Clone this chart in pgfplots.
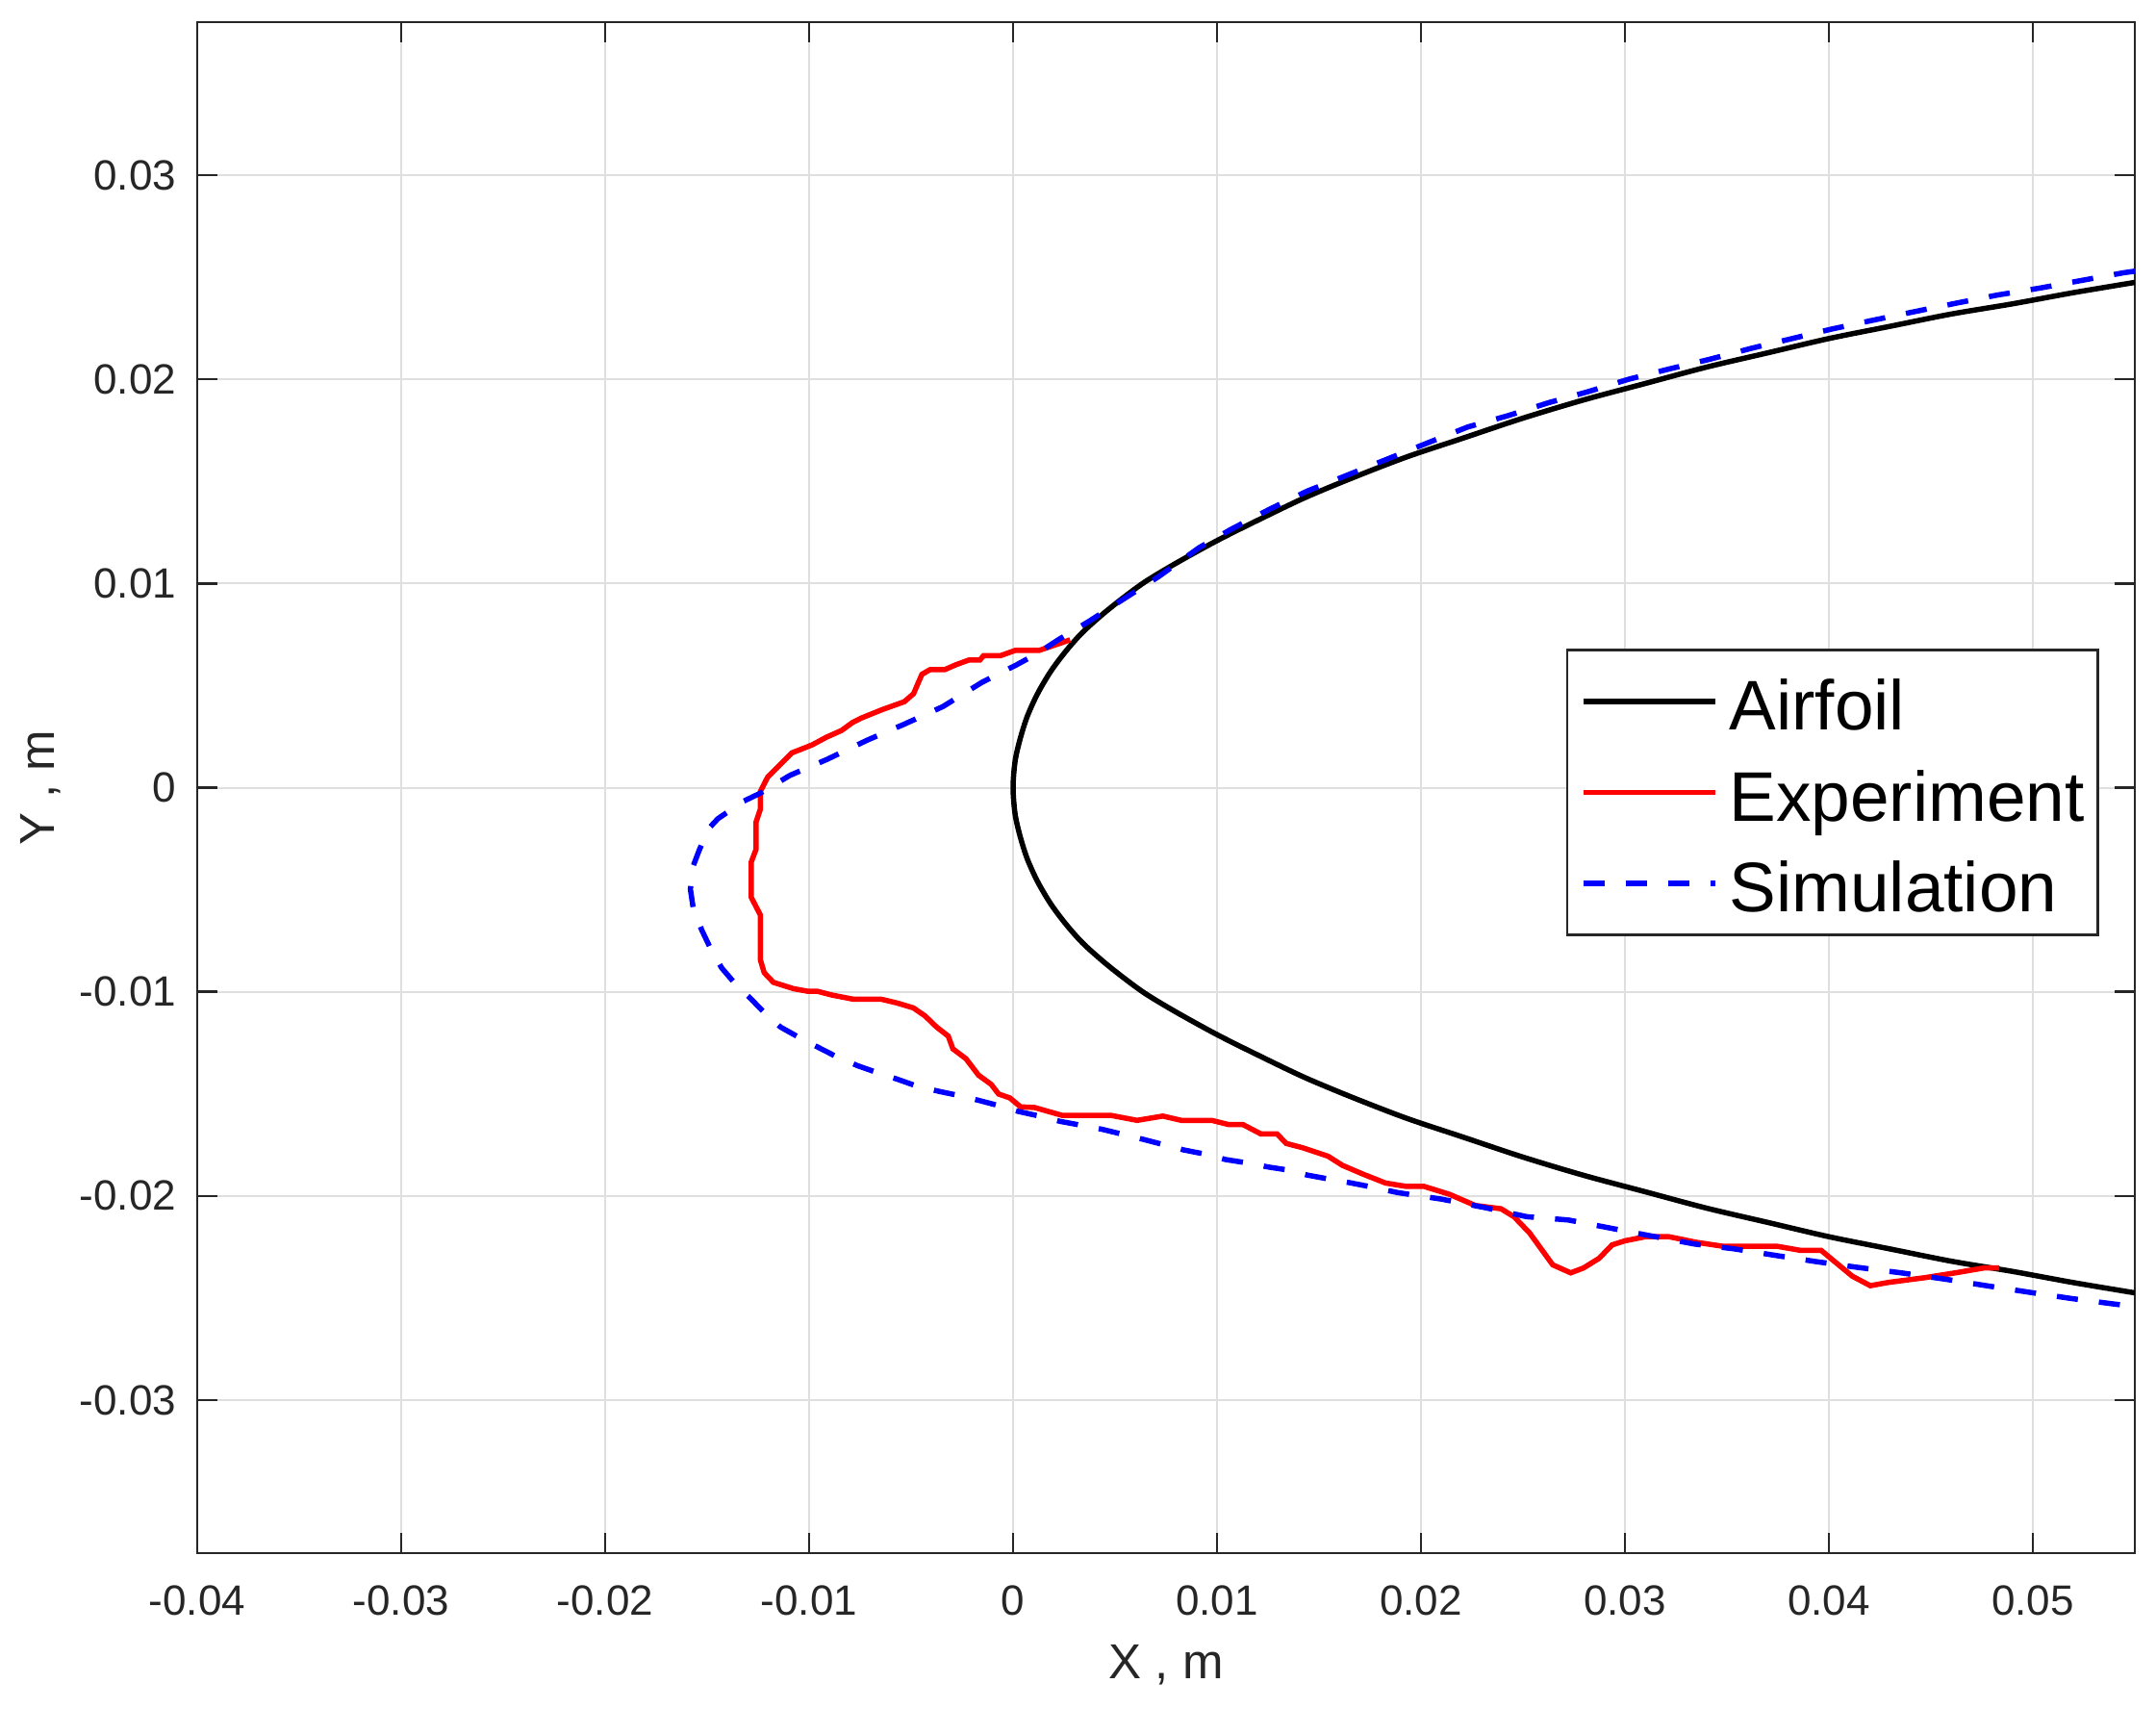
\documentclass[border=0pt]{standalone}
\usepackage{fontspec}
\setmainfont{Liberation Sans}
\usepackage{pgfplots}
\pgfplotsset{compat=1.18}
\definecolor{axgray}{RGB}{38,38,38}
\definecolor{gridgray}{RGB}{223,223,223}
\begin{document}
\begin{tikzpicture}
\begin{axis}[
  scale only axis,
  width=402.8pt, height=318.2pt,
  xmin=-0.04, xmax=0.055, ymin=-0.0375, ymax=0.0375,
  xtick={-0.04,-0.03,-0.02,-0.01,0,0.01,0.02,0.03,0.04,0.05},
  ytick={-0.03,-0.02,-0.01,0,0.01,0.02,0.03},
  scaled ticks=false,
  /pgf/number format/assume math mode=true,
  /pgf/number format/fixed,
  /pgf/number format/precision=2,
  tick label style={font=\fontsize{8.8}{10}\selectfont, text=axgray},
  xticklabel style={anchor=base, yshift=-12.8pt, inner sep=0pt},
  yticklabel style={anchor=east, xshift=-4.2pt, inner sep=0pt},
  xmajorgrids, ymajorgrids,
  grid style={color=gridgray, line width=0.4pt},
  axis line style={color=axgray, line width=0.5pt},
  tick style={color=axgray, line width=0.5pt},
  major tick length=4.2pt,
  tick align=inside,
  xlabel={X , m}, ylabel={Y , m},
  label style={font=\fontsize{10.2}{12}\selectfont, text=axgray},
  xlabel style={at={(axis description cs:0.5,-0.0823)}, anchor=base, inner sep=0pt},
  ylabel style={at={(axis description cs:-0.0735,0.5)}, anchor=base, rotate=0, inner sep=0pt},
  legend cell align=left,
  legend image code/.code={\draw[#1] (0pt,0pt) -- (27.4pt,0pt);},
  legend style={
    at={(axis description cs:0.9816,0.5908)}, anchor=north east,
    draw=axgray, line width=0.5pt,
    font=\fontsize{14.6}{17.5}\selectfont,
    inner xsep=2.8pt, inner ysep=3.6pt,
    row sep=4.65pt,
    nodes={inner sep=0pt, text height=13.05pt, text depth=1.2pt},
    /tikz/every odd column/.append style={column sep=2.4pt},
  },
]
\addplot[black, line width=1.1pt, smooth] coordinates {
(0.0550,0.02475) (0.0520,0.02425) (0.0490,0.0237) (0.0460,0.0232) (0.0430,0.0226)
(0.0400,0.0220) (0.0370,0.0213) (0.0340,0.0206) (0.0310,0.0198) (0.0280,0.0190)
(0.0250,0.0181) (0.0220,0.0171) (0.0193,0.0162) (0.0167,0.0152) (0.0143,0.0142)
(0.0120,0.0131) (0.0100,0.0121) (0.0080,0.0110) (0.0065,0.0101) (0.0054,0.0093)
(0.0044,0.0085) (0.0034,0.0076) (0.0026,0.0067) (0.00185,0.0057) (0.0012,0.0046)
(0.0007,0.0035) (0.00035,0.0024) (0.0001,0.0013) (0,0)
(0.0001,-0.0013) (0.00035,-0.0024) (0.0007,-0.0035) (0.0012,-0.0046) (0.00185,-0.0057)
(0.0026,-0.0067) (0.0034,-0.0076) (0.0044,-0.0085) (0.0054,-0.0093) (0.0065,-0.0101)
(0.0080,-0.0110) (0.0100,-0.0121) (0.0120,-0.0131) (0.0143,-0.0142) (0.0167,-0.0152)
(0.0193,-0.0162) (0.0220,-0.0171) (0.0250,-0.0181) (0.0280,-0.0190) (0.0310,-0.0198)
(0.0340,-0.0206) (0.0370,-0.0213) (0.0400,-0.0220) (0.0430,-0.0226) (0.0460,-0.0232)
(0.0490,-0.0237) (0.0520,-0.02425) (0.0550,-0.02475)
};
\addlegendentry{Airfoil}
\addplot[red, line width=1.1pt] coordinates {
(0.0028,0.00724) (0.00127,0.00672) (0.0001,0.00672) (-0.00063,0.00646) (-0.00145,0.00646)
(-0.00163,0.00625) (-0.00217,0.00625) (-0.0028,0.00602) (-0.00335,0.00578) (-0.00407,0.00578)
(-0.00447,0.00555) (-0.00488,0.0046) (-0.00533,0.00421) (-0.00642,0.00382) (-0.00741,0.00342)
(-0.00787,0.00319) (-0.00841,0.0028) (-0.00913,0.00248) (-0.00986,0.00209) (-0.01085,0.0017)
(-0.01148,0.00107) (-0.01203,0.00052) (-0.01239,-0.00019) (-0.01239,-0.00105) (-0.0126,-0.00168)
(-0.0126,-0.00302) (-0.01284,-0.00365) (-0.01284,-0.00537) (-0.01239,-0.00624) (-0.01239,-0.00844)
(-0.0122,-0.00907) (-0.01175,-0.00954) (-0.01076,-0.00985) (-0.01004,-0.00998) (-0.00958,-0.00998)
(-0.00889,-0.01016) (-0.00786,-0.01036) (-0.00649,-0.01036) (-0.00569,-0.01055) (-0.00489,-0.01079)
(-0.00432,-0.01118) (-0.00375,-0.01173) (-0.00318,-0.01217) (-0.00295,-0.0128) (-0.00231,-0.01328)
(-0.00169,-0.01409) (-0.00107,-0.01454) (-0.00071,-0.01501) (-0.00016,-0.0152) (0.00037,-0.01564)
(0.00105,-0.01567) (0.00242,-0.01606) (0.00482,-0.01606) (0.00608,-0.0163) (0.00734,-0.01609)
(0.00825,-0.0163) (0.00974,-0.0163) (0.01054,-0.0165) (0.01126,-0.0165) (0.01214,-0.01696)
(0.01294,-0.01696) (0.01339,-0.01743) (0.01419,-0.01764) (0.01545,-0.01806) (0.01614,-0.0185)
(0.01717,-0.01894) (0.01826,-0.01937) (0.01924,-0.01953) (0.02013,-0.01953) (0.02139,-0.01992)
(0.02266,-0.02047) (0.02392,-0.02063) (0.02456,-0.02102) (0.02532,-0.02181) (0.02646,-0.02338)
(0.02734,-0.02377) (0.02797,-0.02353) (0.02873,-0.02306) (0.02937,-0.0224) (0.03,-0.0222)
(0.03101,-0.022) (0.03215,-0.022) (0.03354,-0.02228) (0.03481,-0.02247) (0.03747,-0.02247)
(0.03861,-0.02267) (0.03962,-0.02267) (0.04114,-0.02393) (0.04203,-0.0244) (0.04291,-0.02424)
(0.04468,-0.02401) (0.0462,-0.02377) (0.0476,-0.02353) (0.04835,-0.02353)
};
\addlegendentry{Experiment}
\addplot[blue, line width=1.1pt, dash pattern=on 4.4pt off 4.4pt] coordinates {
(0.0550,0.0253) (0.05443,0.02522) (0.0523,0.02483) (0.05033,0.02447) (0.0482,0.02412)
(0.04623,0.02373) (0.04426,0.02333) (0.04213,0.02289) (0.04016,0.02247) (0.0382,0.02200)
(0.03623,0.02153) (0.0341,0.02097) (0.03213,0.0205) (0.03016,0.0200) (0.0282,0.0194)
(0.02623,0.01885) (0.02426,0.01822) (0.0223,0.01767) (0.02033,0.01689) (0.01836,0.0161)
(0.01639,0.01531) (0.01443,0.01453) (0.01262,0.01366) (0.01066,0.01264) (0.00913,0.01176)
(0.00714,0.01034) (0.00542,0.00924) (0.00371,0.00814) (0.00226,0.00727) (0.00118,0.00657)
(0.00018,0.00602) (-0.00154,0.00515) (-0.00344,0.00397) (-0.00533,0.00311) (-0.00714,0.00233)
(-0.00913,0.00138) (-0.01094,0.0006) (-0.01239,-0.00027) (-0.0132,-0.00066) (-0.01447,-0.00152)
(-0.01492,-0.0020) (-0.01537,-0.00302) (-0.01573,-0.00396) (-0.01582,-0.00498) (-0.01568,-0.00592)
(-0.01528,-0.00694) (-0.01483,-0.00789) (-0.01429,-0.00883) (-0.01369,-0.00953) (-0.01289,-0.01031)
(-0.0122,-0.01102) (-0.0114,-0.01173) (-0.01049,-0.01224) (-0.00958,-0.01271) (-0.00866,-0.01318)
(-0.00763,-0.01362) (-0.00672,-0.01394) (-0.00569,-0.01428) (-0.00478,-0.0146) (-0.00363,-0.01488)
(-0.00272,-0.01507) (-0.00169,-0.01532) (-0.00066,-0.01559) (0.00025,-0.01586) (0.00128,-0.01609)
(0.00231,-0.01635) (0.00334,-0.01654) (0.00437,-0.01674) (0.00528,-0.01696) (0.00642,-0.01724)
(0.00734,-0.01748) (0.00837,-0.01775) (0.00939,-0.01795) (0.01042,-0.01822) (0.01145,-0.01838)
(0.01248,-0.01858) (0.01351,-0.01874) (0.01442,-0.01898) (0.01545,-0.01917) (0.01648,-0.01935)
(0.01751,-0.01955) (0.01886,-0.01984) (0.02101,-0.02016) (0.02316,-0.02058) (0.02519,-0.02102)
(0.02722,-0.02118) (0.02924,-0.02157) (0.03127,-0.02196) (0.03342,-0.02236) (0.03532,-0.02259)
(0.03734,-0.02291) (0.03937,-0.02322) (0.04139,-0.0235) (0.04354,-0.02377) (0.0457,-0.02408)
(0.04772,-0.0244) (0.04975,-0.02471) (0.0519,-0.02503) (0.05392,-0.02529) (0.0550,-0.02542)
};
\addlegendentry{Simulation}
\end{axis}
\pgfresetboundingbox
\path ([shift={(-41pt,-32.2pt)}]current axis.south west) rectangle ([shift={(4.4pt,4.6pt)}]current axis.north east);
\end{tikzpicture}
\end{document}
